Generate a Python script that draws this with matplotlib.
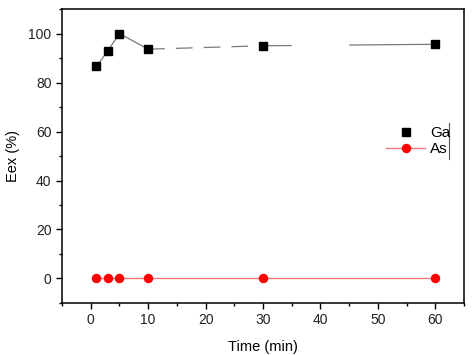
import matplotlib
matplotlib.use("Agg")
import matplotlib.pyplot as plt
from matplotlib.ticker import MultipleLocator
from matplotlib.lines import Line2D

plt.rcParams['font.family'] = ['Liberation Sans', 'DejaVu Sans']
plt.rcParams['lines.scale_dashes'] = False

time = [1, 3, 5, 10, 30, 60]
ga = [86.6, 93.0, 100.0, 93.6, 95.0, 95.6]
as_ = [0, 0, 0, 0, 0, 0]

fig = plt.figure(figsize=(4.74, 3.55), dpi=100)
ax = fig.add_axes([0.1308, 0.1465, 0.8482, 0.8281])
ax.set_xlim(-5, 65)
ax.set_ylim(-10, 110)

gray = '#7a7a7a'
# Ga line: solid for first points, dashed 10->30, broken 30->60
ax.plot(time[:4], ga[:4], color=gray, lw=0.9, zorder=1)
ax.plot(time[3:5], ga[3:5], color=gray, lw=0.9, dashes=(12, 8), zorder=1)
pxu = 0.8482 * 474 / 70 * 0.72  # points per x unit
ax.plot(time[4:6], ga[4:6], color=gray, lw=0.9,
        dashes=(5 * pxu, 10 * pxu, 20 * pxu, 1), zorder=1)
ax.plot(time, ga, linestyle='none', marker='s', color='black', ms=5.2, zorder=3)

ax.plot(time, as_, color='#f07878', lw=1.0, marker='o', mfc='red', mec='red',
        ms=5.8, zorder=2)

ax.set_xticks([0, 10, 20, 30, 40, 50, 60])
ax.set_yticks([0, 20, 40, 60, 80, 100])
ax.xaxis.set_minor_locator(MultipleLocator(5))
ax.yaxis.set_minor_locator(MultipleLocator(10))
ax.tick_params(which='major', direction='out', length=4, width=1,
               labelsize=10, colors='black', labelcolor='#222222')
ax.tick_params(which='minor', direction='out', length=2.5, width=1)
ax.tick_params(top=False, right=False, which='both')
for s in ax.spines.values():
    s.set_linewidth(1.1)

ax.set_xlabel('Time (min)', fontsize=10.5, labelpad=9)
ax.set_ylabel('Eex (%)', fontsize=10.5, labelpad=6)

handles = [Line2D([], [], linestyle='none', marker='s', color='black', ms=5.2),
           Line2D([], [], color='#f07878', lw=1.0, marker='o', mfc='red',
                  mec='red', ms=5.8)]
leg = ax.legend(handles, ['Ga', 'As'], loc='center right',
                bbox_to_anchor=(0.981, 0.551), frameon=False, fontsize=11,
                handlelength=2.6, handletextpad=0.3, labelspacing=0.15,
                borderaxespad=0)
ax.plot([0.963, 0.963], [0.49, 0.612], transform=ax.transAxes,
        color='#555555', lw=0.8, clip_on=False)

fig.savefig('out.png', dpi=100)
